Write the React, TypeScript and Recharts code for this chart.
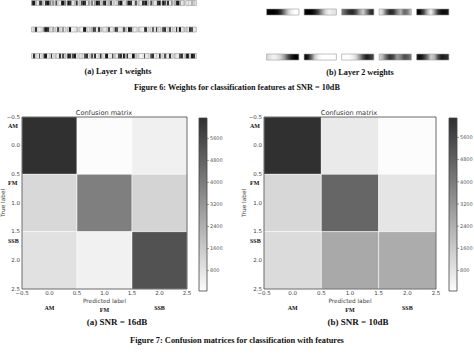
import React from "react";
import { ScatterChart, Scatter, XAxis, YAxis, ReferenceArea, Label } from "recharts";

const classes = ["AM", "FM", "SSB"];
const axisTicks = [-0.5, 0, 0.5, 1, 1.5, 2, 2.5];
const colorbarTicks = [800, 1600, 2400, 3200, 4000, 4800, 5600];

// rows = true label, columns = predicted label
const matrix16dB = [
  [6340, 60, 420],
  [1160, 3920, 1290],
  [890, 400, 5300],
];
const matrix10dB = [
  [6300, 610, 60],
  [1190, 4660, 760],
  [1070, 2590, 2510],
];

// weight strips, brightness 0 = black, 1 = white
const layer1Weights = [
  [
    [0.2, 0.1, 0.7, 0.9, 0.3, 0.2], [0.9, 0.2, 0.1, 0.5, 0.8, 0.6], [0.3, 0.8, 0.9, 0.2, 0.1, 0.5],
    [0.1, 0.2, 0.6, 0.9, 0.7, 0.2], [0.8, 0.3, 0.1, 0.2, 0.9, 0.6], [0.5, 0.9, 0.6, 0.1, 0.2, 0.8],
    [0.2, 0.1, 0.8, 0.7, 0.3, 0.9], [0.9, 0.8, 0.3, 0.1, 0.6, 0.9], [0.4, 0.1, 0.2, 0.9, 0.8, 0.3],
    [0.8, 0.9, 0.2, 0.3, 0.1, 0.7], [0.3, 0.7, 0.9, 0.8, 0.2, 0.1], [0.1, 0.3, 0.8, 0.2, 0.9, 0.6],
    [0.7, 0.2, 0.1, 0.6, 0.9, 0.8], [0.9, 0.8, 0.9, 0.7, 0.8, 0.9],
  ],
  [
    [0.9, 0.8, 0.2, 0.9, 0.95, 0.9], [0.3, 0.1, 0.2, 0.8, 0.9, 0.7], [0.9, 0.3, 0.8, 0.9, 0.6, 0.9],
    [0.8, 0.1, 0.9, 0.95, 0.9, 0.8], [0.9, 0.95, 0.2, 0.1, 0.8, 0.9], [0.7, 0.2, 0.3, 0.9, 0.2, 0.8],
    [0.9, 0.9, 0.8, 0.3, 0.9, 0.9], [0.2, 0.3, 0.9, 0.9, 0.8, 0.3], [0.9, 0.1, 0.2, 0.8, 0.95, 0.9],
    [0.8, 0.9, 0.95, 0.3, 0.2, 0.9], [0.9, 0.4, 0.9, 0.2, 0.8, 0.9], [0.3, 0.2, 0.9, 0.8, 0.3, 0.9],
    [0.9, 0.2, 0.8, 0.1, 0.9, 0.8], [0.8, 0.9, 0.2, 0.3, 0.9, 0.9],
  ],
  [
    [0.9, 0.2, 0.8, 0.9, 0.3, 0.9], [0.2, 0.1, 0.9, 0.8, 0.2, 0.9], [0.8, 0.9, 0.2, 0.9, 0.3, 0.8],
    [0.1, 0.2, 0.8, 0.3, 0.1, 0.9], [0.9, 0.8, 0.9, 0.3, 0.2, 0.9], [0.3, 0.9, 0.2, 0.9, 0.8, 0.2],
    [0.9, 0.2, 0.1, 0.9, 0.9, 0.3], [0.8, 0.9, 0.3, 0.2, 0.9, 0.1], [0.2, 0.9, 0.9, 0.1, 0.3, 0.8],
    [0.9, 0.95, 0.9, 0.3, 0.9, 0.9], [0.3, 0.2, 0.9, 0.8, 0.9, 0.2], [0.9, 0.3, 0.8, 0.9, 0.2, 0.9],
    [0.8, 0.9, 0.9, 0.3, 0.2, 0.9], [0.1, 0.2, 0.8, 0.1, 0.2, 0.9],
  ],
];

const layer2Weights = [
  [
    [0, 0, 0, 0.05, 0.2, 0.5, 0.8, 0.95, 1, 1],
    [0.05, 0, 0, 0.1, 0.3, 0.6, 0.85, 0.95, 0.9, 0.9],
    [0.5, 0.35, 0.2, 0.15, 0.3, 0.6, 0.8, 0.5, 0.2, 0.15],
    [0.95, 0.8, 0.4, 0.15, 0.2, 0.5, 0.7, 0.4, 0.5, 0.8],
    [0, 0.05, 0.3, 0.7, 0.95, 0.6, 0.2, 0.05, 0.05, 0.1],
  ],
  [
    [0.85, 0.9, 0.95, 0.9, 0.8, 0.6, 0.3, 0.1, 0, 0.05],
    [0, 0.1, 0.4, 0.8, 0.95, 1, 1, 1, 1, 1],
    [1, 1, 1, 0.95, 0.85, 0.6, 0.3, 0.1, 0.2, 0.3],
    [0.85, 0.7, 0.4, 0.2, 0.3, 0.6, 0.5, 0.3, 0.35, 0.5],
    [0.1, 0.05, 0.2, 0.45, 0.8, 0.7, 0.3, 0.1, 0.15, 0.2],
  ],
];

const SANS = "DejaVu Sans";
const SERIF = "Liberation Serif";
const TICK_SIZE = 5.5;
const LABEL_SIZE = 5.8;
const CLASS_SIZE = 6;

const greys = (t: number) => {
  const g = Math.round(252 - t * 204);
  return `rgb(${g},${g},${g})`;
};
const bw = (b: number) => {
  const g = Math.round(b * 255);
  return `rgb(${g},${g},${g})`;
};
const fmt = (v: number) => v.toFixed(1).replace("-", "\u2212");

function Caption({ cx, cy, size, children, font = SERIF, weight = 700, color = "#111" }: any) {
  return (
    <div
      style={{
        position: "absolute",
        left: cx - 160,
        top: cy - size / 2,
        width: 320,
        textAlign: "center",
        fontFamily: font,
        fontWeight: weight,
        fontSize: size,
        lineHeight: `${size}px`,
        color,
        whiteSpace: "nowrap",
      }}
    >
      {children}
    </div>
  );
}

function WeightStrips({ rows, id, left, top, width, height, margin, stripW, stripH, blocky }: any) {
  const nCols = rows[0].length;
  const strips = rows.flatMap((row: number[][], r: number) =>
    row.map((vals, i) => ({ x: i + 0.5, y: r, r, i, vals }))
  );
  return (
    <div style={{ position: "absolute", left, top }}>
      <ScatterChart width={width} height={height} margin={margin}>
        <defs>
          {strips.map((s: any) => (
            <linearGradient key={`${s.r}-${s.i}`} id={`${id}-${s.r}-${s.i}`} x1="0" y1="0" x2="1" y2="0">
              {blocky
                ? s.vals.flatMap((v: number, j: number) => [
                    <stop key={`a${j}`} offset={j / s.vals.length} stopColor={bw(v)} />,
                    <stop key={`b${j}`} offset={(j + 1) / s.vals.length} stopColor={bw(v)} />,
                  ])
                : s.vals.map((v: number, j: number) => (
                    <stop key={j} offset={j / (s.vals.length - 1)} stopColor={bw(v)} />
                  ))}
            </linearGradient>
          ))}
        </defs>
        <XAxis type="number" dataKey="x" domain={[0, nCols]} hide allowDataOverflow />
        <YAxis type="number" dataKey="y" domain={[0, rows.length]} reversed hide allowDataOverflow />
        {strips.map((s: any) => (
          <ReferenceArea
            key={`${s.r}-${s.i}`}
            x1={s.i + (1 - stripW) / 2}
            x2={s.i + (1 + stripW) / 2}
            y1={s.r}
            y2={s.r + stripH}
            fill={`url(#${id}-${s.r}-${s.i})`}
            fillOpacity={1}
            stroke="#9a9a9a"
            strokeWidth={0.6}
          />
        ))}
        <Scatter data={strips} isAnimationActive={false} shape={() => <g />} />
      </ScatterChart>
    </div>
  );
}

function ConfusionMatrix({ matrix, left, marginLeft, marginRight, labelOffset }: any) {
  const cells = matrix.flatMap((row: number[], r: number) => row.map((v, c) => ({ r, c, v })));
  const vals = cells.map((d: any) => d.v);
  const vmin = Math.min(...vals);
  const vmax = Math.max(...vals);

  const xTick = ({ x, y, payload }: any) => {
    const v = payload.value;
    return (
      <g>
        <text x={x} y={y} dy="0.71em" textAnchor="middle" fontSize={TICK_SIZE} fill="#444" fontFamily={SANS}>
          {fmt(v)}
        </text>
        {Number.isInteger(v) && (
          <text x={x} y={y + 18 + (v === 1 ? 2 : 0)} textAnchor="middle" fontSize={CLASS_SIZE} fontWeight={700} fill="#111" fontFamily={SERIF}>
            {classes[v]}
          </text>
        )}
      </g>
    );
  };

  const yTick = ({ x, y, payload }: any) => {
    const v = payload.value;
    const k = v + 0.5;
    return (
      <g>
        <text x={x} y={y} dy="0.3em" textAnchor="end" fontSize={TICK_SIZE} fill="#444" fontFamily={SANS}>
          {fmt(v)}
        </text>
        {Number.isInteger(k) && k < 3 && (
          <text x={x - 12} y={y + 9} dy="0.355em" textAnchor="start" fontSize={CLASS_SIZE} fontWeight={700} fill="#111" fontFamily={SERIF}>
            {classes[k]}
          </text>
        )}
      </g>
    );
  };

  return (
    <div style={{ position: "absolute", left, top: 100 }}>
      <ScatterChart width={237} height={220} margin={{ top: 17, right: marginRight, bottom: 0, left: marginLeft }}>
        <XAxis
          type="number"
          dataKey="c"
          domain={[-0.5, 2.5]}
          ticks={axisTicks}
          interval={0}
          height={31}
          tickLine={false}
          tickSize={0}
          tickMargin={2.5}
          axisLine={false}
          tick={xTick}
          allowDataOverflow
        >
          <Label value="Predicted label" position="insideBottom" offset={17} fill="#444" fontSize={LABEL_SIZE} fontFamily={SANS} />
        </XAxis>
        <YAxis
          type="number"
          dataKey="r"
          domain={[-0.5, 2.5]}
          reversed
          ticks={axisTicks}
          interval={0}
          width={22}
          tickLine={false}
          tickSize={0}
          tickMargin={2}
          axisLine={false}
          tick={yTick}
          allowDataOverflow
        >
          <Label
            value="True label"
            angle={-90}
            position="insideLeft"
            offset={labelOffset}
            fill="#444"
            fontSize={LABEL_SIZE}
            fontFamily={SANS}
            style={{ textAnchor: "middle" }}
          />
        </YAxis>
        {cells.map((d: any) => (
          <ReferenceArea
            key={`${d.r}-${d.c}`}
            x1={d.c - 0.5}
            x2={d.c + 0.5}
            y1={d.r - 0.5}
            y2={d.r + 0.5}
            fill={greys((d.v - vmin) / (vmax - vmin))}
            fillOpacity={1}
            stroke="#ffffff"
            strokeWidth={0.5}
          />
        ))}
        <ReferenceArea x1={-0.5} x2={2.5} y1={-0.5} y2={2.5} fill="none" fillOpacity={0} stroke="#444" strokeWidth={0.8} />
        <Scatter data={cells} isAnimationActive={false} shape={() => <g />} />
      </ScatterChart>
    </div>
  );
}

function Colorbar({ matrix, id, left, width }: any) {
  const vals = matrix.flat();
  const vmin = Math.min(...vals);
  const vmax = Math.max(...vals);
  const steps = [0, 0.25, 0.5, 0.75, 1];
  return (
    <div style={{ position: "absolute", left, top: 100 }}>
      <ScatterChart width={width} height={200} margin={{ top: 18, right: 0, bottom: 9, left: 9 }}>
        <defs>
          <linearGradient id={id} x1="0" y1="1" x2="0" y2="0">
            {steps.map((t) => (
              <stop key={t} offset={t} stopColor={greys(t)} />
            ))}
          </linearGradient>
        </defs>
        <XAxis type="number" dataKey="x" domain={[0, 1]} hide allowDataOverflow />
        <YAxis
          type="number"
          dataKey="v"
          orientation="right"
          domain={[vmin, vmax]}
          ticks={colorbarTicks}
          interval={0}
          width={width - 17}
          tickSize={2}
          tickMargin={1}
          tickLine={{ stroke: "#555", strokeWidth: 0.6 }}
          axisLine={false}
          tick={{ fontSize: 5, fill: "#555", fontFamily: SANS }}
          allowDataOverflow
        />
        <ReferenceArea x1={0} x2={1} y1={vmin} y2={vmax} fill={`url(#${id})`} fillOpacity={1} stroke="#444" strokeWidth={0.8} />
        <Scatter data={[{ x: 0.5, v: vmin }, { x: 0.5, v: vmax }]} isAnimationActive={false} shape={() => <g />} />
      </ScatterChart>
    </div>
  );
}

export default function App() {
  return (
    <div
      style={{
        position: "absolute",
        left: 0,
        top: 0,
        width: 474,
        height: 358,
        background: "#fff",
        overflow: "hidden",
      }}
    >
      <WeightStrips
        rows={layer1Weights}
        id="l1"
        left={0}
        top={0}
        width={237}
        height={80}
        margin={{ top: 0.5, right: 40, bottom: 0, left: 31 }}
        stripW={0.9}
        stripH={0.19}
        blocky
      />
      <WeightStrips
        rows={layer2Weights}
        id="l2"
        left={237}
        top={0}
        width={237}
        height={100}
        margin={{ top: 9, right: 22.5, bottom: 1, left: 27 }}
        stripW={0.86}
        stripH={0.135}
      />
      <Caption cx={118} cy={72} size={8.2}>(a) Layer 1 weights</Caption>
      <Caption cx={360} cy={73} size={8.2}>(b) Layer 2 weights</Caption>
      <Caption cx={237} cy={88} size={8.2}>Figure 6: Weights for classification features at SNR = 10dB</Caption>

      <ConfusionMatrix matrix={matrix16dB} left={0} marginLeft={0} marginRight={50} labelOffset={3} />
      <Colorbar matrix={matrix16dB} id="cb16" left={190} width={47} />
      <ConfusionMatrix matrix={matrix10dB} left={237} marginLeft={5} marginRight={38} labelOffset={2} />
      <Colorbar matrix={matrix10dB} id="cb10" left={440} width={40} />

      <Caption cx={104} cy={113} size={6.6} font={SANS} weight={400} color="#333">Confusion matrix</Caption>
      <Caption cx={349} cy={113} size={6.6} font={SANS} weight={400} color="#333">Confusion matrix</Caption>

      <Caption cx={117} cy={322} size={9}>(a) SNR = 16dB</Caption>
      <Caption cx={358} cy={322} size={9}>(b) SNR = 10dB</Caption>
      <Caption cx={237} cy={341} size={8.4}>Figure 7: Confusion matrices for classification with features</Caption>
    </div>
  );
}
